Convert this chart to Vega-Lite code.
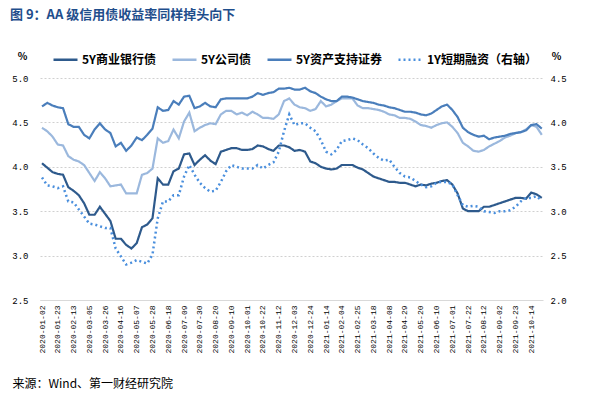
{
  "$schema": "https://vega.github.io/schema/vega-lite/v6.json",
  "width": 503,
  "height": 222,
  "autosize": {"type": "none"},
  "padding": {"left": 40, "top": 78, "right": 47, "bottom": 96},
  "background": "white",
  "config": {
    "view": {"stroke": null},
    "legend": {
      "symbolType": "stroke",
      "symbolSize": 576,
      "symbolStrokeWidth": 2.5,
      "labelFont": "Noto Sans CJK SC",
      "labelFontSize": 12,
      "labelFontWeight": "bold",
      "labelColor": "#000000",
      "labelOffset": 3,
      "columnPadding": 10,
      "labelLimit": 300
    }
  },
  "title": {
    "text": "图 9：AA 级信用债收益率同样掉头向下",
    "anchor": "start",
    "frame": "group",
    "offset": 24,
    "dx": -30,
    "font": "Noto Sans CJK SC",
    "fontSize": 13,
    "fontWeight": "bold",
    "color": "#1F4E8C"
  },
  "data": {
    "values": [
      {"date": "2020-01-02", "bank": 4.04, "corp": 4.44, "abs": 4.68, "cp": 3.38},
      {"date": "2020-01-09", "bank": 3.99, "corp": 4.40, "abs": 4.72, "cp": 3.29},
      {"date": "2020-01-16", "bank": 3.94, "corp": 4.34, "abs": 4.69, "cp": 3.28},
      {"date": "2020-01-23", "bank": 3.92, "corp": 4.25, "abs": 4.67, "cp": 3.26},
      {"date": "2020-01-30", "bank": 3.91, "corp": 4.24, "abs": 4.66, "cp": 3.28},
      {"date": "2020-02-06", "bank": 3.77, "corp": 4.12, "abs": 4.48, "cp": 3.11},
      {"date": "2020-02-13", "bank": 3.73, "corp": 4.08, "abs": 4.45, "cp": 3.10},
      {"date": "2020-02-20", "bank": 3.68, "corp": 4.06, "abs": 4.45, "cp": 3.02},
      {"date": "2020-02-27", "bank": 3.59, "corp": 4.02, "abs": 4.36, "cp": 2.94},
      {"date": "2020-03-05", "bank": 3.46, "corp": 3.93, "abs": 4.32, "cp": 2.86},
      {"date": "2020-03-12", "bank": 3.46, "corp": 3.84, "abs": 4.42, "cp": 2.85},
      {"date": "2020-03-19", "bank": 3.55, "corp": 3.94, "abs": 4.49, "cp": 2.83},
      {"date": "2020-03-26", "bank": 3.47, "corp": 3.87, "abs": 4.42, "cp": 2.81},
      {"date": "2020-04-02", "bank": 3.39, "corp": 3.78, "abs": 4.38, "cp": 2.81},
      {"date": "2020-04-09", "bank": 3.19, "corp": 3.79, "abs": 4.23, "cp": 2.58},
      {"date": "2020-04-16", "bank": 3.19, "corp": 3.80, "abs": 4.27, "cp": 2.49},
      {"date": "2020-04-23", "bank": 3.12, "corp": 3.70, "abs": 4.18, "cp": 2.40},
      {"date": "2020-04-30", "bank": 3.08, "corp": 3.70, "abs": 4.24, "cp": 2.42},
      {"date": "2020-05-07", "bank": 3.14, "corp": 3.70, "abs": 4.33, "cp": 2.45},
      {"date": "2020-05-14", "bank": 3.32, "corp": 3.91, "abs": 4.30, "cp": 2.43},
      {"date": "2020-05-21", "bank": 3.35, "corp": 3.93, "abs": 4.36, "cp": 2.41},
      {"date": "2020-05-28", "bank": 3.42, "corp": 3.98, "abs": 4.43, "cp": 2.51},
      {"date": "2020-06-04", "bank": 3.87, "corp": 4.32, "abs": 4.67, "cp": 2.92},
      {"date": "2020-06-11", "bank": 3.80, "corp": 4.27, "abs": 4.63, "cp": 3.11},
      {"date": "2020-06-18", "bank": 3.80, "corp": 4.29, "abs": 4.64, "cp": 3.11},
      {"date": "2020-06-25", "bank": 3.95, "corp": 4.42, "abs": 4.74, "cp": 3.18},
      {"date": "2020-07-02", "bank": 3.98, "corp": 4.32, "abs": 4.70, "cp": 3.18},
      {"date": "2020-07-09", "bank": 4.14, "corp": 4.51, "abs": 4.79, "cp": 3.39},
      {"date": "2020-07-16", "bank": 4.15, "corp": 4.61, "abs": 4.80, "cp": 3.52},
      {"date": "2020-07-23", "bank": 4.02, "corp": 4.40, "abs": 4.66, "cp": 3.41},
      {"date": "2020-07-30", "bank": 4.08, "corp": 4.44, "abs": 4.68, "cp": 3.32},
      {"date": "2020-08-06", "bank": 4.13, "corp": 4.47, "abs": 4.72, "cp": 3.26},
      {"date": "2020-08-13", "bank": 4.07, "corp": 4.49, "abs": 4.68, "cp": 3.22},
      {"date": "2020-08-20", "bank": 4.03, "corp": 4.48, "abs": 4.67, "cp": 3.23},
      {"date": "2020-08-27", "bank": 4.17, "corp": 4.59, "abs": 4.76, "cp": 3.33},
      {"date": "2020-09-03", "bank": 4.19, "corp": 4.63, "abs": 4.77, "cp": 3.45},
      {"date": "2020-09-10", "bank": 4.21, "corp": 4.63, "abs": 4.77, "cp": 3.52},
      {"date": "2020-09-17", "bank": 4.21, "corp": 4.59, "abs": 4.77, "cp": 3.50},
      {"date": "2020-09-24", "bank": 4.19, "corp": 4.61, "abs": 4.77, "cp": 3.48},
      {"date": "2020-10-01", "bank": 4.19, "corp": 4.58, "abs": 4.77, "cp": 3.48},
      {"date": "2020-10-08", "bank": 4.20, "corp": 4.62, "abs": 4.79, "cp": 3.48},
      {"date": "2020-10-15", "bank": 4.24, "corp": 4.59, "abs": 4.83, "cp": 3.52},
      {"date": "2020-10-22", "bank": 4.23, "corp": 4.55, "abs": 4.81, "cp": 3.48},
      {"date": "2020-10-29", "bank": 4.20, "corp": 4.55, "abs": 4.83, "cp": 3.52},
      {"date": "2020-11-05", "bank": 4.18, "corp": 4.54, "abs": 4.84, "cp": 3.55},
      {"date": "2020-11-12", "bank": 4.24, "corp": 4.59, "abs": 4.88, "cp": 3.67},
      {"date": "2020-11-19", "bank": 4.24, "corp": 4.74, "abs": 4.88, "cp": 3.90},
      {"date": "2020-11-26", "bank": 4.22, "corp": 4.77, "abs": 4.89, "cp": 4.09},
      {"date": "2020-12-03", "bank": 4.18, "corp": 4.70, "abs": 4.87, "cp": 3.97},
      {"date": "2020-12-10", "bank": 4.19, "corp": 4.67, "abs": 4.87, "cp": 3.99},
      {"date": "2020-12-17", "bank": 4.17, "corp": 4.66, "abs": 4.89, "cp": 3.99},
      {"date": "2020-12-24", "bank": 4.06, "corp": 4.63, "abs": 4.85, "cp": 3.94},
      {"date": "2020-12-31", "bank": 4.04, "corp": 4.65, "abs": 4.83, "cp": 3.90},
      {"date": "2021-01-07", "bank": 4.00, "corp": 4.74, "abs": 4.79, "cp": 3.80},
      {"date": "2021-01-14", "bank": 3.98, "corp": 4.68, "abs": 4.76, "cp": 3.67},
      {"date": "2021-01-21", "bank": 3.97, "corp": 4.70, "abs": 4.74, "cp": 3.64},
      {"date": "2021-01-28", "bank": 3.98, "corp": 4.74, "abs": 4.74, "cp": 3.69},
      {"date": "2021-02-04", "bank": 4.02, "corp": 4.77, "abs": 4.79, "cp": 3.79},
      {"date": "2021-02-11", "bank": 4.02, "corp": 4.77, "abs": 4.79, "cp": 3.80},
      {"date": "2021-02-18", "bank": 4.02, "corp": 4.77, "abs": 4.78, "cp": 3.82},
      {"date": "2021-02-25", "bank": 3.99, "corp": 4.69, "abs": 4.76, "cp": 3.80},
      {"date": "2021-03-04", "bank": 3.97, "corp": 4.66, "abs": 4.74, "cp": 3.75},
      {"date": "2021-03-11", "bank": 3.93, "corp": 4.66, "abs": 4.73, "cp": 3.71},
      {"date": "2021-03-18", "bank": 3.89, "corp": 4.65, "abs": 4.72, "cp": 3.65},
      {"date": "2021-03-25", "bank": 3.87, "corp": 4.64, "abs": 4.70, "cp": 3.60},
      {"date": "2021-04-01", "bank": 3.85, "corp": 4.62, "abs": 4.69, "cp": 3.57},
      {"date": "2021-04-08", "bank": 3.83, "corp": 4.59, "abs": 4.67, "cp": 3.58},
      {"date": "2021-04-15", "bank": 3.83, "corp": 4.58, "abs": 4.66, "cp": 3.50},
      {"date": "2021-04-22", "bank": 3.82, "corp": 4.55, "abs": 4.64, "cp": 3.43},
      {"date": "2021-04-29", "bank": 3.82, "corp": 4.55, "abs": 4.62, "cp": 3.39},
      {"date": "2021-05-06", "bank": 3.80, "corp": 4.54, "abs": 4.62, "cp": 3.38},
      {"date": "2021-05-13", "bank": 3.78, "corp": 4.51, "abs": 4.61, "cp": 3.34},
      {"date": "2021-05-20", "bank": 3.80, "corp": 4.47, "abs": 4.59, "cp": 3.30},
      {"date": "2021-05-27", "bank": 3.79, "corp": 4.46, "abs": 4.58, "cp": 3.27},
      {"date": "2021-06-03", "bank": 3.81, "corp": 4.44, "abs": 4.60, "cp": 3.28},
      {"date": "2021-06-10", "bank": 3.82, "corp": 4.47, "abs": 4.64, "cp": 3.32},
      {"date": "2021-06-17", "bank": 3.84, "corp": 4.49, "abs": 4.68, "cp": 3.33},
      {"date": "2021-06-24", "bank": 3.85, "corp": 4.50, "abs": 4.70, "cp": 3.33},
      {"date": "2021-07-01", "bank": 3.80, "corp": 4.45, "abs": 4.64, "cp": 3.30},
      {"date": "2021-07-08", "bank": 3.70, "corp": 4.38, "abs": 4.56, "cp": 3.18},
      {"date": "2021-07-15", "bank": 3.53, "corp": 4.27, "abs": 4.44, "cp": 3.07},
      {"date": "2021-07-22", "bank": 3.50, "corp": 4.23, "abs": 4.39, "cp": 3.05},
      {"date": "2021-07-29", "bank": 3.50, "corp": 4.18, "abs": 4.36, "cp": 3.06},
      {"date": "2021-08-05", "bank": 3.50, "corp": 4.17, "abs": 4.34, "cp": 3.05},
      {"date": "2021-08-12", "bank": 3.55, "corp": 4.19, "abs": 4.35, "cp": 3.00},
      {"date": "2021-08-19", "bank": 3.55, "corp": 4.23, "abs": 4.31, "cp": 2.99},
      {"date": "2021-08-26", "bank": 3.57, "corp": 4.26, "abs": 4.33, "cp": 2.98},
      {"date": "2021-09-02", "bank": 3.59, "corp": 4.29, "abs": 4.34, "cp": 3.00},
      {"date": "2021-09-09", "bank": 3.61, "corp": 4.33, "abs": 4.35, "cp": 3.00},
      {"date": "2021-09-16", "bank": 3.63, "corp": 4.35, "abs": 4.37, "cp": 3.01},
      {"date": "2021-09-23", "bank": 3.65, "corp": 4.38, "abs": 4.38, "cp": 3.05},
      {"date": "2021-09-30", "bank": 3.65, "corp": 4.39, "abs": 4.39, "cp": 3.11},
      {"date": "2021-10-07", "bank": 3.64, "corp": 4.42, "abs": 4.41, "cp": 3.15},
      {"date": "2021-10-14", "bank": 3.71, "corp": 4.47, "abs": 4.47, "cp": 3.15},
      {"date": "2021-10-21", "bank": 3.69, "corp": 4.45, "abs": 4.48, "cp": 3.17},
      {"date": "2021-10-28", "bank": 3.65, "corp": 4.36, "abs": 4.43, "cp": 3.12}
    ]
  },
  "encoding": {
    "x": {
      "field": "date",
      "type": "temporal",
      "scale": {
        "type": "utc",
        "domain": [
          {"year": 2019, "month": 12, "date": 30, "hours": 8, "utc": true},
          {"year": 2021, "month": 10, "date": 29, "hours": 15, "utc": true}
        ]
      },
      "axis": {
        "values": [
          {"year": 2020, "month": 1, "date": 2, "utc": true},
          {"year": 2020, "month": 1, "date": 23, "utc": true},
          {"year": 2020, "month": 2, "date": 13, "utc": true},
          {"year": 2020, "month": 3, "date": 5, "utc": true},
          {"year": 2020, "month": 3, "date": 26, "utc": true},
          {"year": 2020, "month": 4, "date": 16, "utc": true},
          {"year": 2020, "month": 5, "date": 7, "utc": true},
          {"year": 2020, "month": 5, "date": 28, "utc": true},
          {"year": 2020, "month": 6, "date": 18, "utc": true},
          {"year": 2020, "month": 7, "date": 9, "utc": true},
          {"year": 2020, "month": 7, "date": 30, "utc": true},
          {"year": 2020, "month": 8, "date": 20, "utc": true},
          {"year": 2020, "month": 9, "date": 10, "utc": true},
          {"year": 2020, "month": 10, "date": 1, "utc": true},
          {"year": 2020, "month": 10, "date": 22, "utc": true},
          {"year": 2020, "month": 11, "date": 12, "utc": true},
          {"year": 2020, "month": 12, "date": 3, "utc": true},
          {"year": 2020, "month": 12, "date": 24, "utc": true},
          {"year": 2021, "month": 1, "date": 14, "utc": true},
          {"year": 2021, "month": 2, "date": 4, "utc": true},
          {"year": 2021, "month": 2, "date": 25, "utc": true},
          {"year": 2021, "month": 3, "date": 18, "utc": true},
          {"year": 2021, "month": 4, "date": 8, "utc": true},
          {"year": 2021, "month": 4, "date": 29, "utc": true},
          {"year": 2021, "month": 5, "date": 20, "utc": true},
          {"year": 2021, "month": 6, "date": 10, "utc": true},
          {"year": 2021, "month": 7, "date": 1, "utc": true},
          {"year": 2021, "month": 7, "date": 22, "utc": true},
          {"year": 2021, "month": 8, "date": 12, "utc": true},
          {"year": 2021, "month": 9, "date": 2, "utc": true},
          {"year": 2021, "month": 9, "date": 23, "utc": true},
          {"year": 2021, "month": 10, "date": 14, "utc": true}
        ],
        "format": "%Y-%m-%d",
        "labelAngle": -90,
        "labelFont": "Liberation Mono",
        "labelFontSize": 8,
        "labelColor": "#000000",
        "labelOverlap": false,
        "labelBound": false,
        "labelFlush": false,
        "labelPadding": 5,
        "ticks": false,
        "grid": false,
        "domainColor": "#D9D9D9",
        "title": "来源：Wind、第一财经研究院",
        "titleAnchor": null,
        "titleX": -28,
        "titleY": 83,
        "titleAlign": "left",
        "titleBaseline": "middle",
        "titleFont": "Noto Sans CJK SC",
        "titleFontSize": 12,
        "titleFontWeight": "normal",
        "titleColor": "#000000"
      }
    }
  },
  "layer": [
    {
      "transform": [{"fold": ["bank", "corp", "abs"], "as": ["series", "value"]}],
      "mark": {"type": "line", "strokeWidth": 2.2},
      "encoding": {
        "y": {
          "field": "value",
          "type": "quantitative",
          "scale": {"domain": [2.5, 5.0], "zero": false, "nice": false},
          "axis": {
            "values": [2.5, 3.0, 3.5, 4.0, 4.5, 5.0],
            "format": ".1f",
            "grid": true,
            "gridDash": [2, 2],
            "gridColor": "#D0D0D0",
            "domain": false,
            "ticks": false,
            "labelPadding": 12,
            "labelFont": "Liberation Mono",
            "labelFontSize": 9,
            "labelColor": "#000000",
            "title": "%",
            "titleAngle": 0,
            "titleX": -18,
            "titleY": -22,
            "titleAlign": "center",
            "titleBaseline": "middle",
            "titleFont": "Noto Sans CJK SC",
            "titleFontSize": 10,
            "titleFontWeight": "bold",
            "titleColor": "#000000"
          }
        },
        "color": {
          "field": "series",
          "type": "nominal",
          "scale": {
            "domain": ["bank", "corp", "abs", "cp"],
            "range": ["#2E5A8C", "#9BB8DD", "#4A7EBB", "#4A8FDD"]
          },
          "legend": {
            "title": null,
            "orient": "none",
            "legendX": 12,
            "legendY": -32,
            "direction": "horizontal",
            "labelExpr": "datum.label == 'bank' ? '5Y商业银行债' : datum.label == 'corp' ? '5Y公司债' : datum.label == 'abs' ? '5Y资产支持证券' : '1Y短期融资（右轴）'"
          }
        },
        "strokeDash": {
          "field": "series",
          "type": "nominal",
          "scale": {
            "domain": ["bank", "corp", "abs", "cp"],
            "range": [[1, 0], [1, 0], [1, 0], [2, 3]]
          },
          "legend": {
            "title": null,
            "orient": "none",
            "legendX": 12,
            "legendY": -32,
            "direction": "horizontal",
            "labelExpr": "datum.label == 'bank' ? '5Y商业银行债' : datum.label == 'corp' ? '5Y公司债' : datum.label == 'abs' ? '5Y资产支持证券' : '1Y短期融资（右轴）'"
          }
        }
      }
    },
    {
      "transform": [{"fold": ["cp"], "as": ["series", "value"]}],
      "mark": {"type": "line", "strokeWidth": 2.5},
      "encoding": {
        "y": {
          "field": "value",
          "type": "quantitative",
          "scale": {"domain": [2.0, 4.5], "zero": false, "nice": false},
          "axis": {
            "orient": "right",
            "values": [2.0, 2.5, 3.0, 3.5, 4.0, 4.5],
            "format": ".1f",
            "grid": false,
            "domain": false,
            "ticks": false,
            "labelPadding": 7,
            "labelFont": "Liberation Mono",
            "labelFontSize": 9,
            "labelColor": "#000000",
            "title": "%",
            "titleAngle": 0,
            "titleX": 13,
            "titleY": -22,
            "titleAlign": "center",
            "titleBaseline": "middle",
            "titleFont": "Noto Sans CJK SC",
            "titleFontSize": 10,
            "titleFontWeight": "bold",
            "titleColor": "#000000"
          }
        },
        "color": {"field": "series", "type": "nominal"},
        "strokeDash": {"field": "series", "type": "nominal"}
      }
    }
  ],
  "resolve": {"scale": {"y": "independent"}}
}
